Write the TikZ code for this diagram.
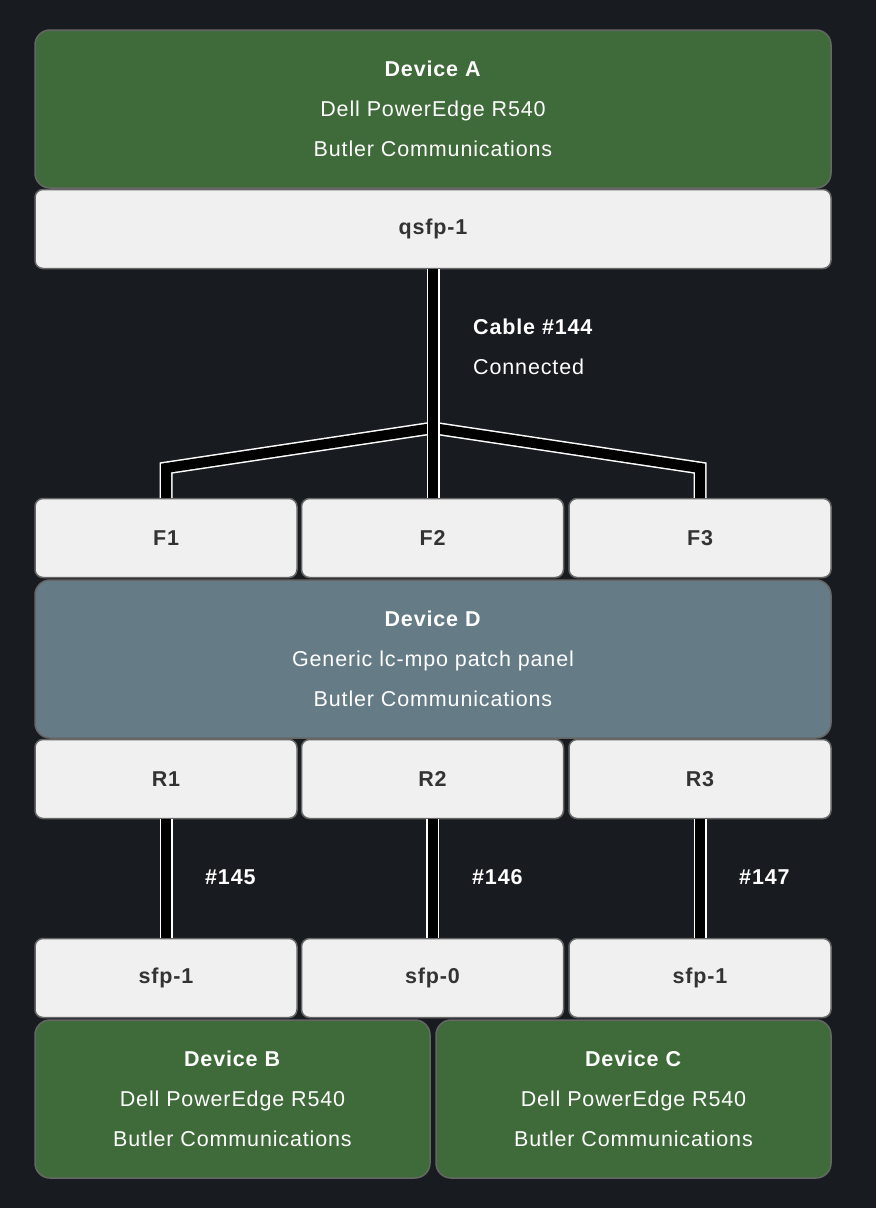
\documentclass[tikz,border=0pt]{standalone}
\usepackage{fontspec}
\setmainfont[LetterSpace=4]{Liberation Sans}
\usetikzlibrary{positioning}
\definecolor{Backdrop}{HTML}{181B1F}
\definecolor{DeviceGreen}{HTML}{3F6A39}
\definecolor{PanelSlate}{HTML}{657B86}
\definecolor{PortGrey}{HTML}{F0F0F0}
\definecolor{BorderGrey}{HTML}{666666}
\definecolor{PortText}{HTML}{333333}

\begin{document}
\begin{tikzpicture}[x=1pt, y=-1pt,
  devbox/.style={draw=BorderGrey, line width=1.5pt, rounded corners=15pt,
    fill=DeviceGreen, text=white, align=center, minimum height=158pt,
    font=\fontsize{21.5}{40}\selectfont},
  panelbox/.style={devbox, fill=PanelSlate},
  portbox/.style={draw=BorderGrey, line width=1.5pt, rounded corners=8pt,
    fill=PortGrey, text=PortText, minimum height=79pt,
    font=\fontsize{21.5}{25}\selectfont\bfseries},
  cable/.style={draw=white, double=black, double distance=10pt, line width=1.5pt},
  cablelabel/.style={anchor=west, inner sep=0pt, text=white, align=left,
    font=\fontsize{21.5}{40}\selectfont}]

  \fill[Backdrop] (0,0) rectangle (876,1208);
  \useasboundingbox (0,0) rectangle (876,1208);

  % devices
  \node[devbox, minimum width=796pt] (DevA) at (433,109)
    {\textbf{Device A}\\Dell PowerEdge R540\\Butler Communications};
  \node[portbox, minimum width=796pt] (Qsfp) at (433,229) {qsfp-1};

  \node[panelbox, minimum width=796pt] (DevD) at (433,659)
    {\textbf{Device D}\\Generic lc-mpo patch panel\\Butler Communications};

  \foreach \i/\x in {1/166,2/432.5,3/700}{%
    \node[portbox, minimum width=262pt] (F\i) at (\x,538) {F\i};
    \node[portbox, minimum width=262pt] (R\i) at (\x,779) {R\i};
  }

  \node[portbox, minimum width=262pt] (SfpB) at (166,978) {sfp-1};
  \node[portbox, minimum width=262pt] (SfpX) at (432.5,978) {sfp-0};
  \node[portbox, minimum width=262pt] (SfpC) at (700,978) {sfp-1};

  \node[devbox, minimum width=395pt] (DevB) at (232.5,1099)
    {\textbf{Device B}\\Dell PowerEdge R540\\Butler Communications};
  \node[devbox, minimum width=395pt] (DevC) at (633.5,1099)
    {\textbf{Device C}\\Dell PowerEdge R540\\Butler Communications};

  % trunk cable and its breakout
  \coordinate (Split) at (433,428);
  \coordinate (KneeL) at (166,468);
  \coordinate (KneeR) at (700,468);
  \draw[cable] (Split) -- (KneeL) -- (F1.north);
  \draw[cable] (Split) -- (KneeR) -- (F3.north);
  \draw[cable] (Qsfp.south -| Split) -- (F2.north -| Split);

  \node[cablelabel] (LblTrunk) at (473,347)
    {\textbf{Cable \#144}\\Connected};

  % rear cables
  \draw[cable] (R1.south) -- (SfpB.north);
  \draw[cable] (R2.south) -- (SfpX.north);
  \draw[cable] (R3.south) -- (SfpC.north);

  \node[cablelabel] (Lbl145) at (205,877) {\textbf{\#145}};
  \node[cablelabel] (Lbl146) at (472,877) {\textbf{\#146}};
  \node[cablelabel] (Lbl147) at (739,877) {\textbf{\#147}};
\end{tikzpicture}
\end{document}
